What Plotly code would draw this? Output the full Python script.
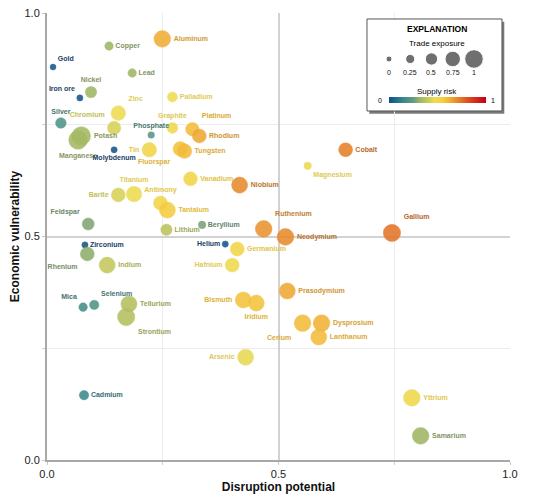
import plotly.graph_objects as go
from plotly.colors import sample_colorscale

# --- andmed (loetud pildilt) ---
minerals = [
    "Gold", "Copper", "Aluminum", "Lead", "Nickel", "Iron ore", "Palladium", "Silver",
    "Zinc", "Chromium", "Graphite", "Platinum", "Rhodium", "Phosphate", "Potash",
    "Manganese", "Molybdenum", "Tin", "Fluorspar", "Tungsten", "Cobalt", "Magnesium",
    "Vanadium", "Niobium", "Titanium", "Barite", "Antimony", "Tantalum", "Feldspar",
    "Lithium", "Beryllium", "Ruthenium", "Neodymium", "Gallium", "Zirconium", "Helium",
    "Germanium", "Rhenium", "Indium", "Hafnium", "Prasodymium", "Bismuth", "Iridium",
    "Tellurium", "Selenium", "Mica", "Strontium", "Cerium", "Dysprosium", "Lanthanum",
    "Arsenic", "Cadmium", "Yttrium", "Samarium",
]
disruption = [
    0.013, 0.134, 0.249, 0.184, 0.095, 0.071, 0.271, 0.030,
    0.154, 0.145, 0.271, 0.314, 0.329, 0.225, 0.074,
    0.067, 0.145, 0.221, 0.288, 0.297, 0.645, 0.563,
    0.310, 0.416, 0.188, 0.154, 0.245, 0.260, 0.089,
    0.258, 0.335, 0.468, 0.515, 0.745, 0.082, 0.385,
    0.411, 0.087, 0.130, 0.400, 0.519, 0.424, 0.452,
    0.177, 0.102, 0.078, 0.171, 0.552, 0.593, 0.587,
    0.429, 0.080, 0.788, 0.807,
]
vulnerability = [
    0.879, 0.926, 0.942, 0.866, 0.823, 0.810, 0.812, 0.754,
    0.776, 0.743, 0.743, 0.740, 0.725, 0.727, 0.725,
    0.716, 0.694, 0.694, 0.696, 0.691, 0.694, 0.658,
    0.629, 0.615, 0.595, 0.593, 0.575, 0.559, 0.528,
    0.515, 0.526, 0.517, 0.499, 0.508, 0.481, 0.483,
    0.472, 0.461, 0.436, 0.436, 0.378, 0.358, 0.351,
    0.349, 0.347, 0.342, 0.320, 0.306, 0.306, 0.275,
    0.230, 0.145, 0.139, 0.054,
]
trade_exposure = [
    0.00, 0.20, 0.85, 0.20, 0.43, 0.02, 0.32, 0.37,
    0.68, 0.59, 0.37, 0.59, 0.63, 0.05, 1.00,
    1.00, 0.02, 0.68, 0.68, 0.68, 0.63, 0.12,
    0.63, 0.80, 0.75, 0.63, 0.63, 0.80, 0.48,
    0.43, 0.12, 0.85, 0.85, 0.90, 0.02, 0.02,
    0.63, 0.63, 0.80, 0.63, 0.80, 0.80, 0.80,
    0.80, 0.27, 0.20, 0.90, 0.85, 0.85, 0.80,
    0.80, 0.27, 0.85, 0.85,
]
supply_risk = [
    0.02, 0.32, 0.63, 0.32, 0.32, 0.02, 0.48, 0.20,
    0.48, 0.43, 0.50, 0.60, 0.64, 0.22, 0.33,
    0.33, 0.02, 0.52, 0.58, 0.60, 0.72, 0.49,
    0.52, 0.70, 0.48, 0.43, 0.52, 0.56, 0.28,
    0.37, 0.27, 0.68, 0.70, 0.74, 0.02, 0.02,
    0.52, 0.30, 0.39, 0.49, 0.64, 0.58, 0.58,
    0.36, 0.20, 0.18, 0.36, 0.60, 0.62, 0.60,
    0.46, 0.15, 0.50, 0.32,
]

# legendi väärtused
legend_exposure = [0, 0.25, 0.5, 0.75, 1]
legend_labels = ["0", "0.25", "0.5", "0.75", "1"]

# --- stiil ---
label_pos = {
    "Gold": "top right", "Nickel": "top center", "Iron ore": "top left",
    "Silver": "top center", "Zinc": "top right", "Chromium": "top left",
    "Graphite": "top center", "Platinum": "top right", "Phosphate": "top center",
    "Manganese": "bottom center", "Molybdenum": "bottom center", "Tin": "middle left",
    "Fluorspar": "bottom left", "Magnesium": "bottom right", "Titanium": "top center",
    "Barite": "middle left", "Antimony": "top center", "Feldspar": "top left",
    "Ruthenium": "top right", "Gallium": "top right", "Helium": "middle left",
    "Rhenium": "bottom left", "Hafnium": "middle left", "Bismuth": "middle left",
    "Iridium": "bottom center", "Cerium": "bottom left", "Arsenic": "middle left",
    "Strontium": "bottom right", "Selenium": "top right", "Mica": "top left",
}

FILL_SCALE = [
    [0.0, "rgb(16,78,139)"], [0.15, "rgb(56,138,140)"], [0.25, "rgb(100,155,130)"],
    [0.32, "rgb(160,182,100)"], [0.40, "rgb(200,202,90)"], [0.47, "rgb(236,220,82)"],
    [0.55, "rgb(245,208,66)"], [0.62, "rgb(242,178,55)"], [0.70, "rgb(230,138,45)"],
    [0.85, "rgb(220,60,30)"], [1.0, "rgb(192,0,26)"],
]
LINE_SCALE = [[p, c.replace("rgb", "rgba").replace(")", ",0.6)")] for p, c in FILL_SCALE]
TEXT_SCALE = [
    [0.0, "rgb(22,55,100)"], [0.15, "rgb(50,110,112)"], [0.25, "rgb(85,125,110)"],
    [0.32, "rgb(130,148,100)"], [0.40, "rgb(175,178,85)"], [0.47, "rgb(222,205,90)"],
    [0.55, "rgb(228,190,60)"], [0.62, "rgb(215,160,50)"], [0.70, "rgb(185,115,45)"],
    [0.85, "rgb(170,60,35)"], [1.0, "rgb(150,20,20)"],
]
FONT = "Liberation Sans, Arial, sans-serif"


def bubble_size(values):
    # kaubandusriski väärtus -> ringi läbimõõt pikslites
    return [6 + 12.6 * v for v in values]


text_colors = sample_colorscale(TEXT_SCALE, supply_risk)
positions = [label_pos.get(m, "middle right") for m in minerals]

fig = go.Figure()

fig.add_trace(go.Scatter(
    x=disruption, y=vulnerability, text=minerals,
    mode="markers+text", textposition=positions,
    textfont=dict(family=FONT, size=7, color=text_colors, weight="bold"),
    cliponaxis=False, hoverinfo="text",
    marker=dict(
        size=bubble_size(trade_exposure), color=supply_risk,
        colorscale=FILL_SCALE, cmin=0, cmax=1, opacity=0.88,
        line=dict(width=0.8, color=supply_risk, colorscale=LINE_SCALE, cmin=0, cmax=1),
        showscale=True,
        colorbar=dict(
            orientation="h", x=0.843, xanchor="center", y=0.805, yanchor="middle",
            len=97, lenmode="pixels", thickness=6, outlinewidth=0,
            showticklabels=False, ticks="", xpad=0, ypad=0,
        ),
    ),
    showlegend=False,
))

# legendi ringid (eraldi telgedel kasti sees)
fig.add_trace(go.Scatter(
    x=list(range(len(legend_exposure))), y=[0] * len(legend_exposure),
    mode="markers", xaxis="x2", yaxis="y2", hoverinfo="skip", showlegend=False,
    marker=dict(size=bubble_size(legend_exposure), color="#333333"),
))

BOX = dict(x0=0.6911, x1=0.9827, y0=0.7808, y1=0.9866)
X2_RANGE = [-1.035, 5.318]


def x2_to_paper(v):
    # legenditelje väärtus -> paberi koordinaat
    frac = (v - X2_RANGE[0]) / (X2_RANGE[1] - X2_RANGE[0])
    return BOX["x0"] + frac * (BOX["x1"] - BOX["x0"])


axis_common = dict(
    range=[0, 1], tickvals=[0, 0.5, 1], ticktext=["0.0", "0.5", "1.0"],
    showgrid=True, gridcolor="#d2d2d2", gridwidth=1.5, zeroline=False,
    showline=True, linecolor="#a8a8a8", linewidth=2,
    ticks="outside", ticklen=3, tickcolor="#c8c8c8",
    minor=dict(tickvals=[0.25, 0.75], showgrid=True, gridcolor="#ededed", gridwidth=1,
               ticks="outside", ticklen=3, tickcolor="#d0d0d0"),
    tickfont=dict(family=FONT, size=11, color="#222222"),
    ticklabeloverflow="allow",
    automargin=False, fixedrange=True,
)

# lehe body-l on 8px vaikeserv, seega joonis on 8px võrra väiksem
fig.update_layout(
    template="none",
    width=525, height=492,
    margin=dict(l=39, r=23, t=5, b=40),
    paper_bgcolor="white", plot_bgcolor="white",
    xaxis=dict(axis_common, title=dict(text="Disruption potential", standoff=3,
                                       font=dict(family=FONT, size=12, color="#111", weight="bold"))),
    yaxis=dict(axis_common, title=dict(text="Economic vulnerability", standoff=3,
                                       font=dict(family=FONT, size=12, color="#111", weight="bold"))),
    xaxis2=dict(domain=[BOX["x0"], BOX["x1"]], range=X2_RANGE, anchor="y2",
                showgrid=False, zeroline=False, showticklabels=False, showline=False,
                ticks="", fixedrange=True),
    yaxis2=dict(domain=[BOX["y0"], BOX["y1"]], range=[-52, 40], anchor="x2",
                showgrid=False, zeroline=False, showticklabels=False, showline=False,
                ticks="", fixedrange=True),
    shapes=[
        # vari
        dict(type="rect", xref="paper", yref="paper", layer="below",
             x0=BOX["x0"] + 0.005, x1=BOX["x1"] + 0.005,
             y0=BOX["y0"] - 0.006, y1=BOX["y1"] - 0.006,
             fillcolor="#7a7a7a", line=dict(width=0)),
        # kasti raam
        dict(type="rect", xref="paper", yref="paper", layer="above",
             x0=BOX["x0"], x1=BOX["x1"], y0=BOX["y0"], y1=BOX["y1"],
             line=dict(color="#555555", width=1)),
    ],
    annotations=[
        dict(text="<b>EXPLANATION</b>", x=0.842, y=0.964, font=dict(family=FONT, size=8.5, color="black")),
        dict(text="Trade exposure", x=0.842, y=0.931, font=dict(family=FONT, size=8, color="black")),
        dict(text="Supply risk", x=0.842, y=0.825, font=dict(family=FONT, size=8, color="black")),
        dict(text="0", x=0.719, y=0.805, font=dict(family=FONT, size=7, color="black")),
        dict(text="1", x=0.963, y=0.805, font=dict(family=FONT, size=7, color="black")),
    ] + [
        dict(text=lab, x=x2_to_paper(i), y=0.866,
             font=dict(family=FONT, size=7, color="#111111"))
        for i, lab in enumerate(legend_labels)
    ],
)
fig.update_annotations(showarrow=False, xanchor="center", yanchor="middle",
                       xref="paper", yref="paper")

fig.write_html("out.html")
